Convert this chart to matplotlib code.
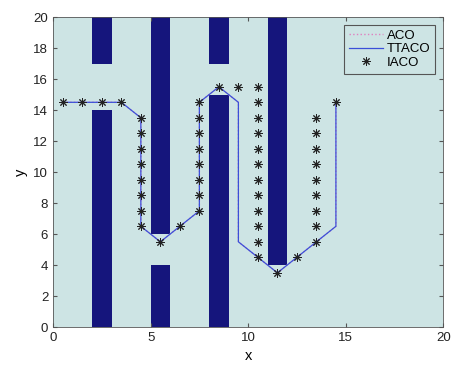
import matplotlib
matplotlib.use('Agg')
import matplotlib.pyplot as plt

plt.rcParams['font.family'] = ['Liberation Sans', 'DejaVu Sans']

# 障碍物 (x 左边, 下, 上)
obs_left = [2, 2, 5, 5, 8, 8, 11]
obs_bottom = [0, 17, 0, 6, 0, 17, 4]
obs_top = [14, 20, 4, 20, 15, 20, 20]

# TTACO 路径
ttaco_x = [0.5, 3.5, 4.5, 4.5, 5.5, 7.5, 7.5, 8.5, 9.5, 9.5, 11.5, 14.5, 14.5]
ttaco_y = [14.5, 14.5, 13.5, 6.5, 5.5, 7.5, 14.5, 15.5, 14.5, 5.5, 3.5, 6.5, 14.5]

# ACO 路径 (被 TTACO 覆盖)
aco_x = ttaco_x
aco_y = ttaco_y

# IACO 路径点
iaco_x = ([0.5, 1.5, 2.5, 3.5] + [4.5] * 8 + [5.5, 6.5] + [7.5] * 8
          + [8.5, 9.5] + [10.5] * 12 + [11.5, 12.5] + [13.5] * 9 + [14.5])
iaco_y = ([14.5] * 4 + [13.5, 12.5, 11.5, 10.5, 9.5, 8.5, 7.5, 6.5] + [5.5, 6.5]
          + [7.5, 8.5, 9.5, 10.5, 11.5, 12.5, 13.5, 14.5] + [15.5, 15.5]
          + [15.5, 14.5, 13.5, 12.5, 11.5, 10.5, 9.5, 8.5, 7.5, 6.5, 5.5, 4.5]
          + [3.5, 4.5] + [5.5, 6.5, 7.5, 8.5, 9.5, 10.5, 11.5, 12.5, 13.5] + [14.5])

fig = plt.figure(figsize=(4.74, 3.79), dpi=100)
ax = fig.add_axes([0.112, 0.137, 0.823, 0.818])
ax.set_facecolor('#cde4e4')

heights = [t - b for t, b in zip(obs_top, obs_bottom)]
ax.bar(obs_left, heights, width=1, bottom=obs_bottom, align='edge',
       color='#15157c', edgecolor='none', zorder=1)

ax.plot(aco_x, aco_y, ':', color='#e080c0', lw=1, label='ACO', zorder=2)
ax.plot(ttaco_x, ttaco_y, '-', color='#3b4fd8', lw=0.9, label='TTACO', zorder=3)
ax.plot(iaco_x, iaco_y, marker=(8, 2, 0), color='#222222', ms=6, mew=0.7,
        linestyle='none', label='IACO', zorder=4)

ax.set_xlim(0, 20)
ax.set_ylim(0, 20)
ax.set_xticks(range(0, 21, 5))
ax.set_yticks(range(0, 21, 2))
ax.tick_params(direction='in', top=True, right=True, labelsize=9.5, length=3,
               color='#555555', labelcolor='#222222')
for s in ax.spines.values():
    s.set_color('#555555')
    s.set_linewidth(0.6)
ax.set_xlabel('x', fontsize=10.5)
ax.set_ylabel('y', fontsize=10.5)

leg = ax.legend(loc='upper right', fontsize=9.5, fancybox=False, framealpha=1,
                handlelength=2.6, handletextpad=0.3, borderaxespad=0.6,
                labelspacing=0.1, borderpad=0.35)
leg.get_frame().set_facecolor('#cde4e4')
leg.get_frame().set_edgecolor('#555555')
leg.get_frame().set_linewidth(0.8)

fig.savefig('out.png', dpi=100)
